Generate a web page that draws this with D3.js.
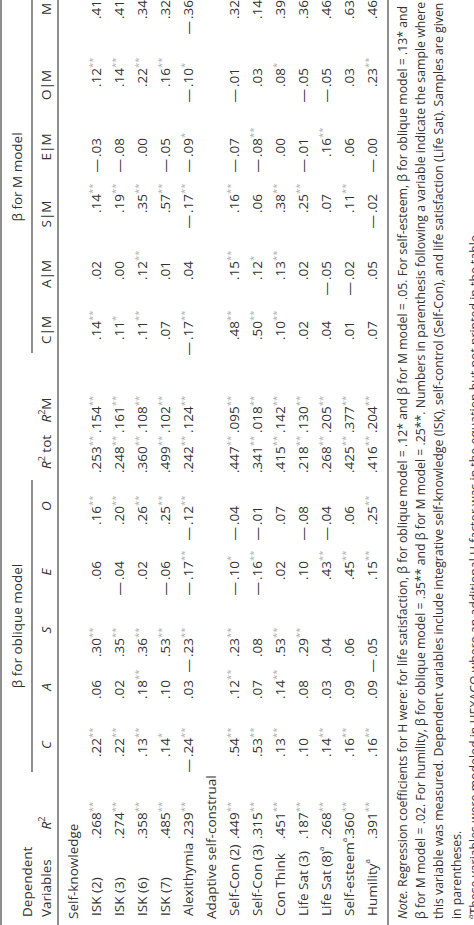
<!DOCTYPE html>
<html>
<head>
<meta charset="utf-8">
<script src="https://cdn.jsdelivr.net/npm/d3@7"></script>
<style>
  body { margin: 0; background: #fff; overflow: hidden; }
  text { font-family: "Open Sans", "Noto Sans", sans-serif; fill: #333; }
</style>
</head>
<body>
<svg id="chart" width="474" height="925"></svg>
<script>
// Table data (rows top to bottom)
const rowLabels = ["Self-knowledge", "ISK (2)", "ISK (3)", "ISK (6)", "ISK (7)", "Alexithymia",
  "Adaptive self-construal", "Self-Con (2)", "Self-Con (3)", "Con Think", "Life Sat (3)",
  "Life Sat (8)", "Self-esteem", "Humility"];
const groupRows = ["Self-knowledge", "Adaptive self-construal"];
const supA = ["Life Sat (8)", "Self-esteem", "Humility"];

const colKeys = ["R2", "C", "A", "S", "E", "O", "R2tot", "R2M", "CM", "AM", "SM", "EM", "OM", "M"];

const r2    = [".268**", ".274**", ".358**", ".485**", ".239**", ".449**", ".315**", ".451**", ".187**", ".268**", ".360**", ".391**"];
const bC    = [".22**", ".22**", ".13**", ".14*", "−.24**", ".54**", ".53**", ".13**", ".10", ".14**", ".16**", ".16**"];
const bA    = [".06", ".02", ".18**", ".10", ".03", ".12**", ".07", ".14**", ".08", ".03", ".09", ".09"];
const bS    = [".30**", ".35**", ".36**", ".53**", "−.23**", ".23**", ".08", ".53**", ".29**", ".04", ".06", "−.05"];
const bE    = [".06", "−.04", ".02", "−.06", "−.17**", "−.10*", "−.16**", ".02", ".10", ".43**", ".45**", ".15**"];
const bO    = [".16**", ".20**", ".26**", ".25**", "−.12**", "−.04", "−.01", ".07", "−.08", "−.04", ".06", ".25**"];
const r2tot = [".253**", ".248**", ".360**", ".499**", ".242**", ".447**", ".341**", ".415**", ".218**", ".268**", ".425**", ".416**"];
const r2M   = [".154**", ".161**", ".108**", ".102**", ".124**", ".095**", ".018**", ".142**", ".130**", ".205**", ".377**", ".204**"];
const bCM   = [".14**", ".11*", ".11**", ".07", "−.17**", ".48**", ".50**", ".10**", ".02", ".04", ".01", ".07"];
const bAM   = [".02", ".00", ".12**", ".01", ".04", ".15**", ".12*", ".13**", ".02", "−.05", "−.02", ".05"];
const bSM   = [".14**", ".19**", ".35**", ".57**", "−.17**", ".16**", ".06", ".38**", ".25**", ".07", ".11**", "−.02"];
const bEM   = ["−.03", "−.08", ".00", "−.05", "−.09*", "−.07", "−.08**", ".00", "−.01", ".16**", ".06", "−.00"];
const bOM   = [".12**", ".14**", ".22**", ".16**", "−.10*", "−.01", ".03", ".08*", "−.05", "−.05", ".03", ".23**"];
const bM    = [".41**", ".41**", ".34**", ".32**", "−.36**", ".32**", ".14**", ".39**", ".36**", ".46**", ".63**", ".46**"];
const columns = [r2, bC, bA, bS, bE, bO, r2tot, r2M, bCM, bAM, bSM, bEM, bOM, bM];

const footLines = [
  "Regression coefficients for H were: for life satisfaction, β for oblique model = .12* and β for M model = .05. For self-esteem, β for oblique model = .13* and",
  "β for M model = .02. For humility, β for oblique model = .35** and β for M model = .25**. Numbers in parenthesis following a variable indicate the sample where",
  "this variable was measured. Dependent variables include integrative self-knowledge (ISK), self-control (Self-Con), and life satisfaction (Life Sat). Samples are given",
  "in parentheses.",
  "These variables were modeled in HEXACO where an additional H factor was in the equation but not printed in the table."
];

// Layout in unrotated frame (925 wide x 474 tall), then rotated -90deg
const W = 925;
const svg = d3.select("#chart");
const g = svg.append("g").attr("transform", `translate(0,${W}) rotate(-90)`);

const colStart = d3.scaleOrdinal().domain(colKeys)
  .range([86, 168, 226, 268, 345, 400, 452, 492, 585, 645, 712, 768, 838, 906]);
const colHead = d3.scaleOrdinal().domain(colKeys)
  .range([102, 180, 238, 295, 353, 419, 473, 515, 595, 651, 711, 778, 840, 916]);
const y = d3.scaleBand().domain(rowLabels).range([61, 384]);

const fs = 13.5;

// rules
const line = (x1, x2, yy) => g.append("line").attr("x1", x1).attr("x2", x2)
  .attr("y1", yy).attr("y2", yy).attr("stroke", "#444").attr("stroke-width", 1.2);
line(0, W, 1);
line(153, 445, 32);
line(572, W, 32);
line(0, W, 58);
line(0, W, 388);

// spanners
g.append("text").attr("x", 299).attr("y", 22).attr("text-anchor", "middle").attr("font-size", fs).text("β for oblique model");
g.append("text").attr("x", 748).attr("y", 22).attr("text-anchor", "middle").attr("font-size", fs).text("β for M model");
g.append("text").attr("x", 8).attr("y", 32).attr("font-size", fs).text("Dependent");
g.append("text").attr("x", 8).attr("y", 51).attr("font-size", fs).text("Variables");

// column headers
const headers = {
  R2: ["R", "2", ""], C: ["C"], A: ["A"], S: ["S"], E: ["E"], O: ["O"],
  R2tot: ["R", "2", " tot"], R2M: ["R", "2", "M"], CM: ["C|M"], AM: ["A|M"], SM: ["S|M"],
  EM: ["E|M"], OM: ["O|M"], M: ["M"]
};
colKeys.forEach(k => {
  const h = headers[k];
  const t = g.append("text").attr("x", colHead(k)).attr("y", 51)
    .attr("text-anchor", "middle").attr("font-size", fs);
  const italic = ["R2", "C", "A", "S", "E", "O", "R2tot", "R2M"].includes(k);
  t.append("tspan").attr("font-style", italic ? "italic" : null).text(h[0]);
  if (h.length > 1) {
    t.append("tspan").attr("font-size", 9).attr("dy", -6).text(h[1]);
    t.append("tspan").attr("dy", 6).text(h[2]);
  }
});

// row labels
rowLabels.forEach(r => {
  const isGroup = groupRows.includes(r);
  const t = g.append("text").attr("x", isGroup ? 6 : 9)
    .attr("y", y(r) + y.bandwidth() / 2 + 5).attr("font-size", fs).text(r);
  if (supA.includes(r)) t.append("tspan").attr("font-size", 8).attr("dy", -7).text("a");
});

// cells
const dataRows = rowLabels.filter(r => !groupRows.includes(r));
columns.forEach((vals, ci) => {
  const x0 = colStart(colKeys[ci]);
  vals.forEach((v, ri) => {
    const yy = y(dataRows[ri]) + y.bandwidth() / 2 + 5;
    const neg = v.startsWith("−");
    const body = v.replace("−", "");
    const num = body.replace(/\*/g, "");
    const stars = body.slice(num.length);
    if (neg) g.append("text").attr("x", x0 - 2).attr("y", yy).attr("text-anchor", "end")
      .attr("font-size", fs).text("—");
    const t = g.append("text").attr("x", x0).attr("y", yy).attr("font-size", fs);
    t.append("tspan").text(num);
    if (stars) t.append("tspan").attr("font-size", 9.5).attr("dy", -5).style("fill", "#aaa").text(stars);
  });
});

// footnotes
footLines.forEach((l, i) => {
  const t = g.append("text").attr("x", 6).attr("y", 407 + i * 18).attr("font-size", 12.3);
  if (i === 0) { t.append("tspan").attr("font-style", "italic").text("Note. "); }
  if (i === 4) { t.append("tspan").attr("font-size", 8).attr("dy", -6).text("a"); t.append("tspan").attr("dy", 6).text(l); }
  else t.append("tspan").text(l);
});
</script>
</body>
</html>
